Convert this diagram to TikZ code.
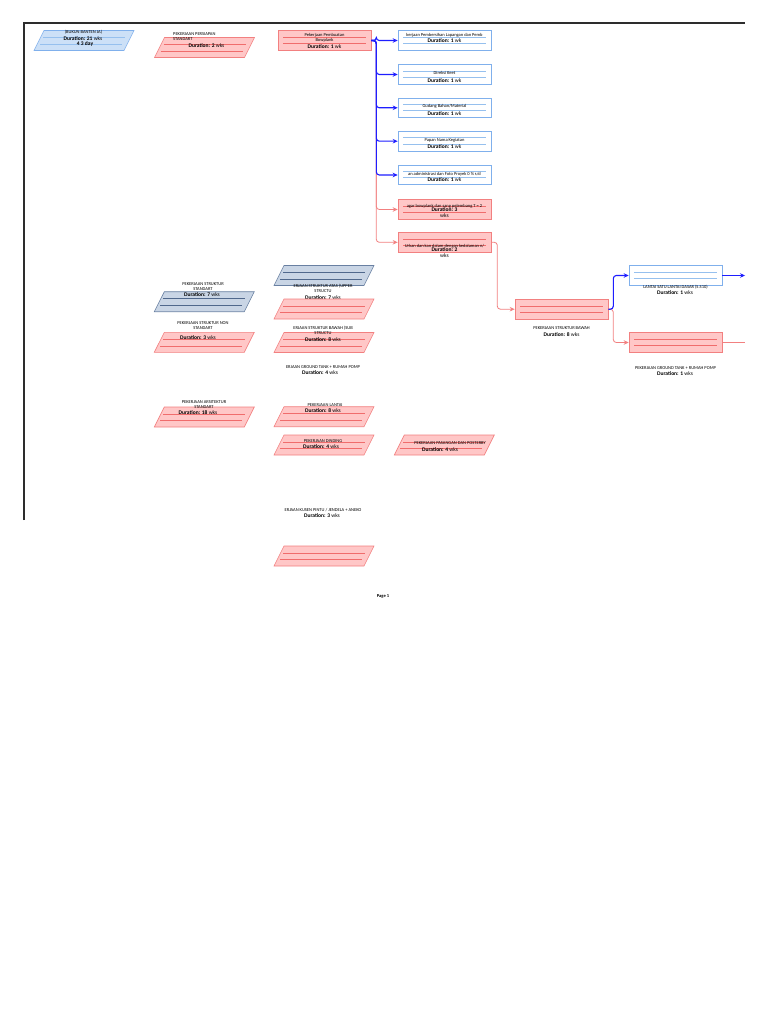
\documentclass[tikz,border=0pt]{standalone}
\usepackage{fontspec}
\setmainfont{Carlito}
\usepackage{tikz}
\usetikzlibrary{calc, arrows.meta, shapes.geometric, positioning}

\definecolor{redfill}{RGB}{255,199,199}
\definecolor{rededge}{RGB}{242,128,128}
\definecolor{redbar}{RGB}{240,108,108}
\definecolor{blueedge}{RGB}{128,176,236}
\definecolor{bluebar}{RGB}{150,192,238}
\definecolor{bluefill}{RGB}{204,224,247}
\definecolor{grayfill}{RGB}{201,213,229}
\definecolor{grayedge}{RGB}{105,128,162}
\definecolor{graybar}{RGB}{80,104,140}
\definecolor{linkblue}{RGB}{30,30,255}
\definecolor{linkred}{RGB}{242,128,128}
\definecolor{framegray}{RGB}{45,45,45}

\newcommand{\dur}[2]{\textbf{Duration: #1} #2}

\tikzset{
    tasknode/.style = {draw, rectangle, inner sep=0em, minimum width=93pt, minimum height=19.5pt, 
      line width=0.6pt, path picture={
        \draw[#1, line width=0.5pt] ($(path picture bounding box.north west)+(5,6.3)$) 
          -- ($(path picture bounding box.north east)+(-5,6.3)$);
        \draw[#1, line width=0.5pt] ($(path picture bounding box.north west)+(5,12.5)$) 
          -- ($(path picture bounding box.north east)+(-5,12.5)$);}},
    paranode/.style = {draw, trapezium, trapezium left angle=63.4, trapezium right angle=116.6, 
      trapezium stretches body=true, inner xsep=1pt, inner ysep=10pt, minimum width=100pt, 
      minimum height=20pt, line width=0.6pt, path picture={
        \draw[#1, line width=0.5pt] ($(path picture bounding box.north west)+(9,7)$) 
          -- ($(path picture bounding box.north east)+(-9,7)$);
        \draw[#1, line width=0.5pt] ($(path picture bounding box.north west)+(6,13.5)$) 
          -- ($(path picture bounding box.north east)+(-12,13.5)$);}},
    redtask/.style  = {tasknode=redbar, fill=redfill, draw=rededge},
    bluetask/.style = {tasknode=bluebar, fill=white, draw=blueedge},
    redpara/.style  = {paranode=redbar, fill=redfill, draw=rededge},
    graypara/.style = {paranode=graybar, fill=grayfill, draw=grayedge},
    bluepara/.style = {paranode=bluebar, fill=bluefill, draw=blueedge},
    textnode/.style = {draw=none, fill=none, rectangle, inner sep=0em, align=center, 
      font=\fontsize{4.5}{5}\selectfont},
    durnode/.style  = {draw=none, fill=none, rectangle, inner sep=0em, align=center, 
      font=\fontsize{5.5}{5.5}\selectfont},
    connect/.style  = {rounded corners=3pt, -{Stealth[length=5pt, width=4.5pt]}},
    bluelink/.style = {connect, linkblue, line width=1.1pt},
    redlink/.style  = {connect, linkred, line width=0.8pt}
}

\begin{document}
\begin{tikzpicture}[x=1pt, y=-1pt]
    \useasboundingbox [fill=white] (0,0) rectangle (768,1024);
    \draw [framegray, line width=1.2pt] (24,520) -- (24,23) -- (745,23);

    % left column
    \node [name=pA, bluepara] at (84,40.5) {};
    \node [name=tA, textnode] at (83.5,32.5) {(BUKUN BANTEN JA)};
    \node [name=dA, durnode] at (83,38.5) {\dur{21}{wks}};
    \node [name=dA2, durnode] at (85,44) {\textbf{4 3 day}};

    \node [name=pB, redpara] at (204.5,47.5) {};
    \node [name=tB, textnode, anchor=west, align=left] at (173,36.7) {PEKERJAAN PERSIAPAN\\STANDART};
    \node [name=dB, durnode] at (206.5,46) {\dur{2}{wks}};

    \node [name=pC, graypara] at (204.3,301.7) {};
    \node [name=tC, textnode] at (203,286.3) {PEKERJAAN STRUKTUR\\STANDART};
    \node [name=dC, durnode] at (202,295) {\dur{7}{wks}};

    \node [name=pD, redpara] at (204.3,342.3) {};
    \node [name=tD, textnode] at (203,325.8) {PEKERJAAN STRUKTUR NON\\STANDART};
    \node [name=dD, durnode] at (198,337.7) {\dur{3}{wks}};

    \node [name=pE, redpara] at (204.3,417) {};
    \node [name=tE, textnode] at (204,404.5) {PEKERJAAN ARSITEKTUR\\STANDART};
    \node [name=dE, durnode] at (198,413) {\dur{18}{wks}};

    % middle column
    \node [name=bowplank, redtask] at (324.5,40.5) {};
    \node [name=tP, textnode] at (324.5,37.5) {Pekerjaan Pembuatan\\Bowplank};
    \node [name=dP, durnode] at (324.5,46.5) {\dur{1}{wk}};

    \node [name=pF, graypara] at (324,275.5) {};
    \node [name=tF, textnode] at (323,288) {ERJAAN STRUKTUR ATAS (UPPER\\STRUCTU};
    \node [name=dF, durnode] at (323,297.7) {\dur{7}{wks}};

    \node [name=pG, redpara] at (324,309) {};

    \node [name=pH, redpara] at (324,342.5) {};
    \node [name=tH, textnode] at (323,330) {ERJAAN STRUKTUR BAWAH (SUB\\STRUCTU};
    \node [name=dH, durnode] at (323,339.5) {\dur{8}{wks}};

    \node [name=tGT, textnode] at (323,366.7) {ERJAAN GROUND TANK + RUMAH POMP};
    \node [name=dGT, durnode] at (320,372.3) {\dur{4}{wks}};

    \node [name=pI, redpara] at (324,416.7) {};
    \node [name=tI, textnode] at (325,405) {PEKERJAAN LANTAI};
    \node [name=dI, durnode] at (323,411) {\dur{8}{wks}};

    \node [name=pJ, redpara] at (324,445) {};
    \node [name=tJ, textnode] at (323,440.7) {PEKERJAAN DINDING};
    \node [name=dJ, durnode] at (321,446.7) {\dur{4}{wks}};

    \node [name=pK, redpara] at (444.3,445) {};
    \node [name=tK, textnode] at (450,443.3) {PEKERJAAN PASANGAN DAN POSTERBY};
    \node [name=dK, durnode] at (440,449.3) {\dur{4}{wks}};

    \node [name=tL, textnode] at (323,510) {ERJAAN KUSEN PINTU / JENDELA + ANEKO};
    \node [name=dL, durnode] at (322,515.7) {\dur{3}{wks}};
    \node [name=pL, redpara] at (324,556) {};

    % persiapan tasks
    \node [name=b1, bluetask] at (444.5,40.5) {};
    \node [name=t1, textnode] at (444.5,35) {kerjaan Pembersihan Lapangan dan Pemb};
    \node [name=d1, durnode] at (444.5,40.5) {\dur{1}{wk}};

    \node [name=b2, bluetask] at (444.5,74.5) {};
    \node [name=t2, textnode] at (444.5,72.7) {Direksi Keet};
    \node [name=d2, durnode] at (444.5,80.5) {\dur{1}{wk}};

    \node [name=b3, bluetask] at (444.5,107.8) {};
    \node [name=t3, textnode] at (444.5,106.5) {Gudang Bahan/Material};
    \node [name=d3, durnode] at (444.5,113.5) {\dur{1}{wk}};

    \node [name=b4, bluetask] at (444.5,141.2) {};
    \node [name=t4, textnode] at (444.5,140.5) {Papan Nama Kegiatan};
    \node [name=d4, durnode] at (444.5,146.5) {\dur{1}{wk}};

    \node [name=b5, bluetask] at (444.5,175) {};
    \node [name=t5, textnode] at (444.5,174) {an administrasi dan Foto Proyek 0 \% s/d};
    \node [name=d5, durnode] at (444.5,179.5) {\dur{1}{wk}};

    \node [name=r6, redtask] at (444.5,209.5) {};
    \node [name=t6, textnode] at (444.5,206.5) {agar bowplank dan sang pelembang T = 2};
    \node [name=d6, durnode] at (444.5,212.5) {\textbf{Duration: 3}\\wks};

    \node [name=r7, redtask] at (444.5,242.3) {};
    \node [name=t7, textnode] at (444.5,246) {Urkan dan kan dalam dengan kedalaman n/};
    \node [name=d7, durnode] at (444.5,252.5) {\textbf{Duration: 2}\\wks};

    % struktur bawah
    \node [name=bawah, redtask] at (561.5,309.2) {};
    \node [name=tW, textnode] at (561.5,328.3) {PEKERJAAN STRUKTUR BAWAH};
    \node [name=dW, durnode] at (561.5,334.5) {\dur{8}{wks}};

    \node [name=lt1, bluetask] at (675.5,275.5) {};
    \node [name=tT, textnode] at (675.5,287.5) {LANTAI SATU LANTAI DASAR (S.S10)};
    \node [name=dT, durnode] at (675,293) {\dur{1}{wks}};

    \node [name=gt, redtask] at (675.5,342.5) {};
    \node [name=tG, textnode] at (675.5,368.3) {PEKERJAAN GROUND TANK + RUMAH POMP};
    \node [name=dG, durnode] at (675,374) {\dur{1}{wks}};

    \coordinate (offA) at (745,275.5);
    \coordinate (offB) at (745,342.5);

    \node [name=page, textnode, font=\fontsize{4.5}{5}\selectfont\bfseries] at (383,596) {Page 1};

    % connectors
    \draw [redlink] (bowplank.east) -- ++(5,0) |- (r6.west);
    \draw [redlink] (bowplank.east) -- ++(5,0) |- (r7.west);
    \draw [redlink] (r7.east) -- ++(6,0) |- (bawah.west);
    \draw [redlink] (bawah.east) -- ++(5,0) |- (gt.west);
    \draw [redlink, -] (gt.east) -- (offB);
    \foreach \b in {b1,b2,b3,b4,b5}
        \draw [bluelink] (bowplank.east) -- ++(5,0) |- (\b.west);
    \draw [bluelink] (bawah.east) -- ++(5,0) |- (lt1.west);
    \draw [bluelink] (lt1.east) -- (offA);
\end{tikzpicture}
\end{document}
